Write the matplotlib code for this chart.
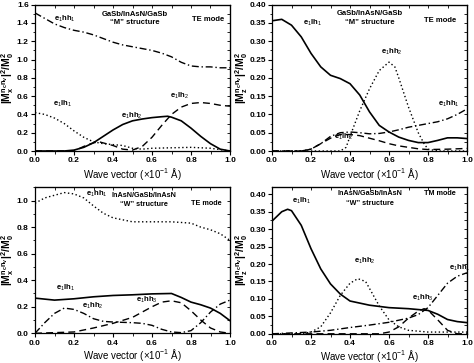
import matplotlib
matplotlib.use("Agg")
import matplotlib.pyplot as plt
from matplotlib.ticker import MultipleLocator

plt.rcParams['font.family'] = ['Liberation Sans', 'DejaVu Sans']
plt.rcParams['mathtext.fontset'] = 'custom'
plt.rcParams['mathtext.rm'] = 'Liberation Sans'
plt.rcParams['mathtext.it'] = 'Liberation Sans'
plt.rcParams['mathtext.bf'] = 'Liberation Sans:bold'

# ---------------- Panel (a): M structure, TE, |Mx|^2 ----------------
a_x_hh1 = [0, 0.05, 0.1, 0.15, 0.2, 0.25, 0.3, 0.35, 0.4, 0.45, 0.5, 0.55, 0.6, 0.65, 0.7, 0.75, 0.8, 0.85, 0.9, 0.95, 1.0]
a_hh1 = [1.51, 1.45, 1.39, 1.35, 1.32, 1.30, 1.27, 1.23, 1.19, 1.16, 1.14, 1.12, 1.10, 1.07, 1.03, 0.97, 0.93, 0.92, 0.92, 0.91, 0.91]
a_x_lh1 = [0, 0.05, 0.1, 0.15, 0.2, 0.25, 0.3, 0.35, 0.4, 0.45, 0.5, 0.55, 0.6, 0.7, 0.8, 0.9, 1.0]
a_lh1 = [0.42, 0.40, 0.36, 0.30, 0.22, 0.15, 0.10, 0.08, 0.07, 0.06, 0.03, 0.02, 0.03, 0.035, 0.04, 0.03, 0.0]
a_x_hh2 = [0, 0.15, 0.2, 0.25, 0.3, 0.35, 0.4, 0.45, 0.5, 0.55, 0.6, 0.65, 0.68, 0.7, 0.75, 0.8, 0.85, 0.9, 0.95, 1.0]
a_hh2 = [0, 0.0, 0.01, 0.04, 0.09, 0.16, 0.23, 0.29, 0.33, 0.35, 0.365, 0.375, 0.38, 0.37, 0.33, 0.25, 0.16, 0.08, 0.02, 0.0]
a_x_lh2 = [0, 0.2, 0.25, 0.3, 0.33, 0.4, 0.45, 0.5, 0.55, 0.6, 0.65, 0.7, 0.75, 0.8, 0.85, 0.9, 0.95, 1.0]
a_lh2 = [0, 0.0, 0.05, 0.09, 0.10, 0.06, 0.02, 0.01, 0.05, 0.15, 0.28, 0.40, 0.48, 0.52, 0.53, 0.52, 0.50, 0.49]

# ---------------- Panel (b): M structure, TE, |Mz|^2 ----------------
b_x_lh1 = [0, 0.05, 0.1, 0.15, 0.2, 0.25, 0.3, 0.35, 0.4, 0.45, 0.5, 0.55, 0.6, 0.65, 0.7, 0.75, 0.8, 0.85, 0.9, 0.95, 1.0]
b_lh1 = [0.356, 0.360, 0.344, 0.312, 0.267, 0.230, 0.207, 0.198, 0.184, 0.153, 0.107, 0.070, 0.052, 0.038, 0.029, 0.023, 0.023, 0.029, 0.036, 0.036, 0.034]
b_x_hh2 = [0, 0.35, 0.38, 0.4, 0.45, 0.5, 0.55, 0.6, 0.63, 0.65, 0.7, 0.75, 0.78, 0.8, 0.85, 1.0]
b_hh2 = [0, 0.0, 0.01, 0.04, 0.11, 0.17, 0.22, 0.243, 0.23, 0.20, 0.12, 0.05, 0.02, 0.005, 0.0, 0.0]
b_x_hh1 = [0, 0.15, 0.2, 0.25, 0.3, 0.35, 0.4, 0.45, 0.5, 0.55, 0.6, 0.65, 0.7, 0.75, 0.8, 0.85, 0.9, 0.95, 1.0]
b_hh1 = [0, 0.0, 0.005, 0.02, 0.04, 0.05, 0.052, 0.05, 0.047, 0.048, 0.052, 0.058, 0.065, 0.07, 0.075, 0.08, 0.088, 0.10, 0.115]
b_x_lh2 = [0, 0.15, 0.2, 0.25, 0.3, 0.35, 0.4, 0.45, 0.5, 0.55, 0.6, 0.65, 0.7, 0.75, 0.8, 0.9, 1.0]
b_lh2 = [0, 0.0, 0.005, 0.02, 0.035, 0.045, 0.045, 0.042, 0.035, 0.028, 0.02, 0.014, 0.01, 0.006, 0.004, 0.005, 0.007]

# ---------------- Panel (c): W structure, TE, |Mx|^2 ----------------
c_x_hh1 = [0, 0.05, 0.1, 0.15, 0.2, 0.25, 0.3, 0.35, 0.4, 0.5, 0.6, 0.7, 0.8, 0.85, 0.9, 0.95, 1.0]
c_hh1 = [0.98, 1.02, 1.04, 1.06, 1.05, 1.02, 0.96, 0.905, 0.87, 0.84, 0.84, 0.84, 0.83, 0.80, 0.78, 0.75, 0.70]
c_x_lh1 = [0, 0.1, 0.2, 0.3, 0.4, 0.5, 0.6, 0.7, 0.75, 0.8, 0.85, 0.9, 0.95, 1.0]
c_lh1 = [0.265, 0.25, 0.26, 0.275, 0.285, 0.29, 0.297, 0.30, 0.27, 0.235, 0.215, 0.19, 0.15, 0.095]
c_x_hh2 = [0, 0.05, 0.1, 0.15, 0.2, 0.25, 0.3, 0.35, 0.4, 0.5, 0.55, 0.6, 0.65, 0.7, 0.75, 0.8, 0.85, 0.9, 0.95, 1.0]
c_hh2 = [0.0, 0.08, 0.15, 0.19, 0.18, 0.15, 0.11, 0.09, 0.085, 0.08, 0.075, 0.06, 0.03, 0.01, 0.005, 0.02, 0.08, 0.16, 0.22, 0.25]
c_x_hh3 = [0, 0.2, 0.3, 0.4, 0.5, 0.6, 0.65, 0.7, 0.75, 0.8, 0.85, 0.9, 0.95, 1.0]
c_hh3 = [0, 0.01, 0.04, 0.075, 0.12, 0.20, 0.235, 0.245, 0.23, 0.17, 0.10, 0.04, 0.01, 0.0]

# ---------------- Panel (d): W structure, TM, |Mz|^2 ----------------
d_x_lh1 = [0, 0.05, 0.08, 0.1, 0.15, 0.2, 0.25, 0.3, 0.35, 0.4, 0.45, 0.5, 0.6, 0.7, 0.8, 0.85, 0.9, 0.95, 1.0]
d_lh1 = [0.323, 0.350, 0.357, 0.353, 0.311, 0.244, 0.186, 0.143, 0.114, 0.094, 0.088, 0.082, 0.075, 0.072, 0.067, 0.056, 0.041, 0.035, 0.032]
d_x_hh2 = [0, 0.15, 0.2, 0.25, 0.3, 0.35, 0.4, 0.44, 0.48, 0.5, 0.55, 0.6, 0.65, 0.7, 0.8, 1.0]
d_hh2 = [0, 0.0, 0.005, 0.02, 0.06, 0.11, 0.145, 0.158, 0.15, 0.13, 0.08, 0.04, 0.02, 0.01, 0.005, 0.005]
d_x_hh1 = [0, 0.2, 0.3, 0.4, 0.5, 0.6, 0.7, 0.75, 0.8, 0.85, 0.9, 0.95, 1.0]
d_hh1 = [0, 0.005, 0.01, 0.018, 0.025, 0.033, 0.045, 0.055, 0.075, 0.11, 0.145, 0.165, 0.175]
d_x_hh3 = [0, 0.55, 0.6, 0.65, 0.7, 0.75, 0.78, 0.8, 0.85, 0.9, 0.95, 1.0]
d_hh3 = [0, 0.0, 0.005, 0.02, 0.045, 0.065, 0.072, 0.068, 0.04, 0.01, 0.0, 0.0]

SOLID = '-'
DASH = (0, (5, 3))
DOT = (0, (1, 1.8))
DASHDOT = (0, (5, 2, 1, 2))

ylab_x = r'$\mathbf{|M_x^{n_c n_v}|^2/M_0^2}$'
ylab_z = r'$\mathbf{|M_z^{n_c n_v}|^2/M_0^2}$'
xlab = r'Wave vector ($\times$10$^{-1}$ Å)'

fig = plt.figure(figsize=(4.74, 3.63), dpi=100)
W, H = 474, 363

def mk(l, r, t, b):
    return fig.add_axes([l / W, 1 - b / H, (r - l) / W, (b - t) / H])

axA = mk(35, 230, 4.7, 151)
axB = mk(272, 467, 4.7, 151)
axC = mk(35, 230, 187.3, 333.3)
axD = mk(272, 467, 187.3, 333.8)

def style(ax, ylim, ymaj, yfmt, ylab, ylx, xlp=1):
    ax.set_xlim(0, 1.0)
    ax.set_ylim(*ylim)
    ax.xaxis.set_major_locator(MultipleLocator(0.2))
    ax.xaxis.set_minor_locator(MultipleLocator(0.1))
    ax.yaxis.set_major_locator(MultipleLocator(ymaj))
    ax.yaxis.set_minor_locator(MultipleLocator(ymaj / 2))
    ax.tick_params(which='both', direction='out', top=False, right=False, labelsize=6, pad=1.5)
    ax.tick_params(which='major', length=3, width=0.8)
    ax.tick_params(which='minor', length=1.8, width=0.6)
    ax.xaxis.set_major_formatter(plt.FormatStrFormatter('%.1f'))
    ax.yaxis.set_major_formatter(plt.FormatStrFormatter(yfmt))
    for lab in ax.get_xticklabels() + ax.get_yticklabels():
        lab.set_fontweight('bold')
    sec = ax.secondary_xaxis('top')
    sec.xaxis.set_major_locator(MultipleLocator(0.1))
    sec.tick_params(direction='in', length=2, width=0.6, labeltop=False)
    sec2 = ax.secondary_yaxis('right')
    sec2.yaxis.set_major_locator(MultipleLocator(ymaj / 2))
    sec2.tick_params(direction='in', length=2, width=0.6, labelright=False)
    for s in ax.spines.values():
        s.set_linewidth(0.9)
    ax.set_xlabel(xlab, fontsize=7, labelpad=xlp)
    ax.set_ylabel(ylab, fontsize=7.5)
    ax.yaxis.set_label_coords(ylx, 0.5)

def txt(ax, x, y, s, fs=5.5, **kw):
    ax.text(x, y, s, fontsize=fs, fontweight='bold', **kw)

lw = 1.0
# Panel A
axA.plot(a_x_hh1, a_hh1, color='k', lw=lw, ls=DASHDOT)
axA.plot(a_x_lh1, a_lh1, color='k', lw=lw, ls=DOT)
axA.plot(a_x_hh2, a_hh2, color='k', lw=1.2, ls=SOLID)
axA.plot(a_x_lh2, a_lh2, color='k', lw=lw, ls=DASH)
style(axA, (0, 1.6), 0.2, '%.1f', ylab_x, -0.10)
txt(axA, 0.10, 1.45, r'e$_1$hh$_1$', va='center')
txt(axA, 0.09, 0.52, r'e$_1$lh$_1$', va='center')
txt(axA, 0.44, 0.38, r'e$_1$hh$_2$', va='center')
txt(axA, 0.69, 0.60, r'e$_1$lh$_2$', va='center')
txt(axA, 0.51, 1.49, 'GaSb/InAsN/GaSb', ha='center', va='center')
txt(axA, 0.51, 1.40, '\u201cM\u201d structure', ha='center', va='center')
txt(axA, 0.89, 1.44, 'TE mode', ha='center', va='center')

# Panel B
axB.plot(b_x_lh1, b_lh1, color='k', lw=1.2, ls=SOLID)
axB.plot(b_x_hh2, b_hh2, color='k', lw=lw, ls=DOT)
axB.plot(b_x_hh1, b_hh1, color='k', lw=lw, ls=DASHDOT)
axB.plot(b_x_lh2, b_lh2, color='k', lw=lw, ls=DASH)
style(axB, (0, 0.40), 0.05, '%.2f', ylab_z, -0.115)
txt(axB, 0.16, 0.35, r'e$_1$lh$_1$', va='center')
txt(axB, 0.56, 0.27, r'e$_1$hh$_2$', va='center')
txt(axB, 0.85, 0.128, r'e$_1$hh$_1$', va='center')
txt(axB, 0.32, 0.038, r'e$_1$lh$_2$', va='center')
txt(axB, 0.50, 0.375, 'GaSb/InAsN/GaSb', ha='center', va='center')
txt(axB, 0.50, 0.352, '\u201cM\u201d structure', ha='center', va='center')
txt(axB, 0.86, 0.358, 'TE mode', ha='center', va='center')

# Panel C
axC.plot(c_x_hh1, c_hh1, color='k', lw=lw, ls=DOT)
axC.plot(c_x_lh1, c_lh1, color='k', lw=1.2, ls=SOLID)
axC.plot(c_x_hh2, c_hh2, color='k', lw=lw, ls=DASHDOT)
axC.plot(c_x_hh3, c_hh3, color='k', lw=lw, ls=DASH)
style(axC, (0, 1.1), 0.2, '%.1f', ylab_x, -0.10, xlp=0.5)
txt(axC, 0.26, 1.05, r'e$_1$hh$_1$', va='center')
txt(axC, 0.11, 0.34, r'e$_1$lh$_1$', va='center')
txt(axC, 0.24, 0.21, r'e$_1$hh$_2$', va='center')
txt(axC, 0.52, 0.25, r'e$_1$hh$_3$', va='center')
txt(axC, 0.56, 1.04, 'InAsN/GaSb/InAsN', fs=5.2, ha='center', va='center')
txt(axC, 0.56, 0.97, '\u201cW\u201d structure', fs=5.2, ha='center', va='center')
txt(axC, 0.88, 0.975, 'TE mode', fs=5.2, ha='center', va='center')

# Panel D
axD.plot(d_x_lh1, d_lh1, color='k', lw=1.2, ls=SOLID)
axD.plot(d_x_hh2, d_hh2, color='k', lw=lw, ls=DOT)
axD.plot(d_x_hh1, d_hh1, color='k', lw=lw, ls=DASHDOT)
axD.plot(d_x_hh3, d_hh3, color='k', lw=lw, ls=DASH)
style(axD, (0, 0.42), 0.05, '%.2f', ylab_z, -0.115, xlp=0.5)
txt(axD, 0.10, 0.38, r'e$_1$lh$_1$', va='center')
txt(axD, 0.42, 0.21, r'e$_1$hh$_2$', va='center')
txt(axD, 0.72, 0.104, r'e$_1$hh$_3$', va='center')
txt(axD, 0.91, 0.19, r'e$_1$hh$_1$', va='center')
txt(axD, 0.50, 0.403, 'InAsN/GaSb/InAsN', fs=5.2, ha='center', va='center')
txt(axD, 0.50, 0.374, '\u201cW\u201d structure', fs=5.2, ha='center', va='center')
txt(axD, 0.86, 0.403, 'TM mode', fs=5.2, ha='center', va='center')

fig.savefig('out.png', dpi=100)
